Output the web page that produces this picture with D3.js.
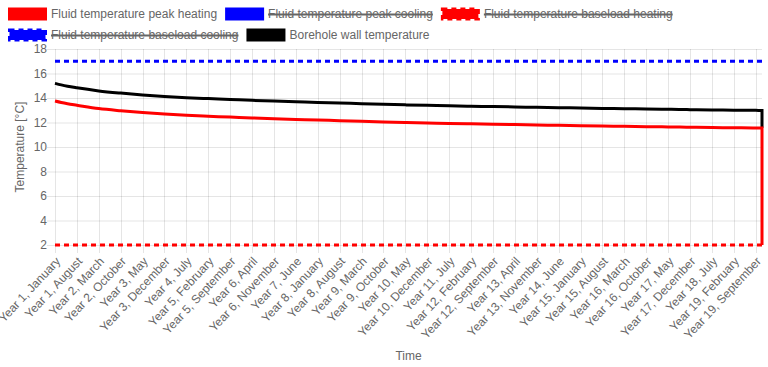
<!DOCTYPE html>
<html><head><meta charset="utf-8">
<script src="https://cdn.jsdelivr.net/npm/d3@7"></script>
<style>body{margin:0;background:#fff;}svg{display:block;font-family:Arial,"Liberation Sans",Helvetica,sans-serif;}</style>
</head><body>
<svg id="c" width="768" height="367"></svg>
<script>
// Data
const tickLabels = ["Year 1, January","Year 1, August","Year 2, March","Year 2, October","Year 3, May","Year 3, December","Year 4, July","Year 5, February","Year 5, September","Year 6, April","Year 6, November","Year 7, June","Year 8, January","Year 8, August","Year 9, March","Year 9, October","Year 10, May","Year 10, December","Year 11, July","Year 12, February","Year 12, September","Year 13, April","Year 13, November","Year 14, June","Year 15, January","Year 15, August","Year 16, March","Year 16, October","Year 17, May","Year 17, December","Year 18, July","Year 19, February","Year 19, September"];
const tickMonths = [0,7,14,21,28,35,42,49,56,63,70,77,84,91,98,105,112,119,126,133,140,147,154,161,168,175,182,189,196,203,210,217,224];
const lastMonth = 226;
const sampleMonths = [0,2,4,7,14,21,28,35,42,49,56,63,70,77,84,91,98,105,112,119,126,133,140,147,154,161,168,175,182,189,196,203,210,217,224,226];
const peakHeating = [13.75,13.63,13.53,13.41,13.14,12.96,12.81,12.69,12.59,12.51,12.44,12.37,12.31,12.25,12.20,12.15,12.10,12.05,12.00,11.96,11.92,11.89,11.86,11.83,11.80,11.77,11.74,11.71,11.69,11.66,11.64,11.61,11.59,11.57,11.55,11.55];
const boreholeWall = [15.20,15.07,14.96,14.83,14.58,14.40,14.25,14.13,14.03,13.95,13.88,13.81,13.75,13.69,13.64,13.59,13.54,13.49,13.44,13.40,13.36,13.33,13.30,13.27,13.24,13.21,13.18,13.15,13.13,13.10,13.08,13.05,13.03,13.01,12.99,12.98];
const peakHeatingFinal = 2;      // last value at lastMonth
const boreholeWallFinal = 11.58; // last value at lastMonth
const limitCooling = 17;
const limitHeating = 2;
const yTicks = [2,4,6,8,10,12,14,16,18];
const legendItems = [
  {name:"Fluid temperature peak heating", color:"#ff0000", dashed:false, hidden:false, row:0},
  {name:"Fluid temperature peak cooling", color:"#0000ff", dashed:false, hidden:true, row:0},
  {name:"Fluid temperature baseload heating", color:"#ff0000", dashed:true, hidden:true, row:0},
  {name:"Fluid temperature baseload cooling", color:"#0000ff", dashed:true, hidden:true, row:1},
  {name:"Borehole wall temperature", color:"#000000", dashed:false, hidden:false, row:1}
];

const svg = d3.select("#c");
const L = 55, R = 762, T = 49, B = 245;
const x = d3.scaleLinear().domain([0, lastMonth]).range([L, R]);
const y = d3.scaleLinear().domain([2, 18]).range([B, T]);
const txt = "#666";
const grid = "rgba(0,0,0,0.1)";

// grid
const g = svg.append("g");
g.selectAll(".hg").data(yTicks).join("line")
  .attr("x1", L-8).attr("x2", R).attr("y1", d=>y(d)+0.5).attr("y2", d=>y(d)+0.5)
  .attr("stroke", grid).attr("stroke-width",1);
g.selectAll(".vg").data(tickMonths).join("line")
  .attr("x1", d=>Math.round(x(d))+0.5).attr("x2", d=>Math.round(x(d))+0.5)
  .attr("y1", T).attr("y2", B+8)
  .attr("stroke", grid).attr("stroke-width",1);

// y axis labels
svg.append("g").selectAll("text").data(yTicks).join("text")
  .attr("x", 47).attr("y", d=>y(d)).attr("dy","0.35em")
  .attr("text-anchor","end").attr("font-size",12).attr("fill",txt).text(d=>d);
svg.append("text").attr("transform",`translate(20,${(T+B)/2}) rotate(-90)`)
  .attr("text-anchor","middle").attr("dy","0.35em").attr("font-size",12).attr("fill",txt)
  .text("Temperature [°C]");

// x labels
svg.append("g").selectAll("text").data(tickMonths).join("text")
  .attr("transform", d=>`translate(${x(d)+3},${B+14}) rotate(-47)`)
  .attr("text-anchor","end").attr("dy","0.35em").attr("font-size",12).attr("fill",txt)
  .text((d,i)=>tickLabels[i]);
svg.append("text").attr("x",(L+R)/2).attr("y",356).attr("dy","0.35em")
  .attr("text-anchor","middle").attr("font-size",12).attr("fill",txt).text("Time");

// lines
const line = d3.line().x(d=>x(d[0])).y(d=>y(d[1]));
const smooth = d3.line().x(d=>x(d[0])).y(d=>y(d[1])).curve(d3.curveMonotoneX);
const flat = v => [[0,v],[lastMonth,v]];
svg.append("path").attr("d", line(flat(limitCooling))).attr("fill","none")
  .attr("stroke","#0000ff").attr("stroke-width",3).attr("stroke-dasharray","5,4");
svg.append("path").attr("d", line(flat(limitHeating))).attr("fill","none")
  .attr("stroke","#ff0000").attr("stroke-width",3).attr("stroke-dasharray","5,4");
function series(vals, finalVal, color){
  const d = smooth(sampleMonths.map((m,i)=>[m,vals[i]])) + `L${x(lastMonth)},${y(finalVal)}`;
  svg.append("path").attr("d", d).attr("fill","none")
    .attr("stroke",color).attr("stroke-width",3).attr("stroke-linejoin","miter");
}
series(boreholeWall, boreholeWallFinal, "#000");
series(peakHeating, peakHeatingFinal, "#ff0000");

// legend
const rowY = [14, 35];
const rowX = [8, 8];
legendItems.forEach(it=>{
  const bx = rowX[it.row], cy = rowY[it.row];
  const r = svg.append("rect").attr("x",bx+1.5).attr("y",cy-6.5+1.5).attr("width",36).attr("height",10)
    .attr("fill",it.color).attr("stroke",it.color).attr("stroke-width",3);
  if (it.dashed) r.attr("stroke-dasharray","5,4");
  const t = svg.append("text").attr("x",bx+43).attr("y",cy).attr("dy","0.35em")
    .attr("font-size",12).attr("fill",txt).text(it.name);
  const w = t.node().getComputedTextLength();
  if (it.hidden) {
    svg.append("line").attr("x1",bx+43).attr("x2",bx+43+w).attr("y1",cy+0.5).attr("y2",cy+0.5)
      .attr("stroke",txt).attr("stroke-width",2);
  }
  rowX[it.row] = bx + 43 + w + 8;
});
</script>
</body></html>
